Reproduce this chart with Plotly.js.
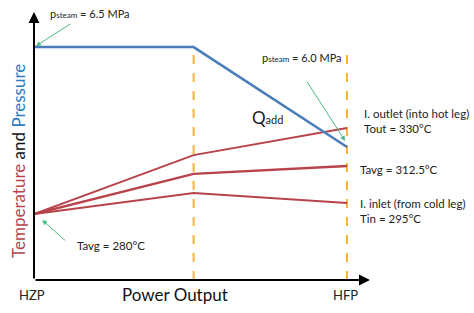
<!DOCTYPE html>
<html><head><meta charset="utf-8">
<script src="https://cdn.plot.ly/plotly-3.0.1.min.js"></script>
<style>html,body{margin:0;padding:0;background:#fff}#chart{width:474px;height:313px}</style>
</head><body><div id="chart"></div>
<script>
// Power levels (HZP = 0, HFP = 1), schematic level units (0-100)
const powerLevels = [0, 0.51, 1];
const pSteam = [86.9, 86.9, 49.6];
const tOut = [24.6, 46.6, 56.7];
const tAvg = [24.6, 39.6, 42.5];
const tIn = [24.6, 32.5, 28.7];
const xTickLabels = ['HZP', 'HFP'];

const FONT = 'Lato, "Open Sans", sans-serif';
const red = '#b8434a';
const blue = '#4a7ebb';
const gold = '#f8b531';
const green = '#4cbb7f';

const redLine = {color: red, width: 2};
const traces = [
  {x: powerLevels, y: tIn, mode: 'lines', line: redLine, hoverinfo: 'skip'},
  {x: powerLevels, y: tAvg, mode: 'lines', line: {color: red, width: 2.5}, hoverinfo: 'skip'},
  {x: powerLevels, y: tOut, mode: 'lines', line: redLine, hoverinfo: 'skip'},
  {x: powerLevels, y: pSteam, mode: 'lines', line: {color: blue, width: 2.5}, hoverinfo: 'skip'}
];

const xMax = 1.0735;
function txt(text, x, y, size, anchor, extra) {
  return Object.assign({text: text, x: x, y: y, xref: 'x', yref: 'y', showarrow: false,
    xanchor: anchor || 'left', yanchor: 'middle', align: 'left',
    font: {family: FONT, size: size || 11, color: '#222'}}, extra || {});
}
function ptxt(text, x, y, size, color) {
  return {text: text, x: x, y: y, xref: 'paper', yref: 'paper', showarrow: false,
    xanchor: 'center', yanchor: 'middle', font: {family: FONT, size: size, color: color || '#222'}};
}
function arrow(x, y, ax, ay, color, width, head, size) {
  return {text: '', x: x, y: y, ax: ax, ay: ay, xref: 'x', yref: 'y', axref: 'x', ayref: 'y',
    showarrow: true, arrowcolor: color, arrowwidth: width, arrowhead: head, arrowsize: size, standoff: 0};
}
const sm = s => '<span style="font-size:8px">' + s + '</span>';

const annotations = [
  arrow(0, 100, 0, 0, '#000', 2, 2, 1.1),
  arrow(xMax, 0, 0, 0, '#000', 2, 2, 1.1),
  arrow(0.006, 87.3, 0.121, 95.9, green, 1, 2, 1),
  arrow(0.994, 51.9, 0.869, 74.6, green, 1, 2, 1),
  arrow(0.026, 22.4, 0.105, 14.2, green, 1, 2, 1),
  txt('p' + sm('steam') + ' = 6.5 MPa', 0.045, 99.6, 11),
  txt('p' + sm('steam') + ' = 6.0 MPa', 0.722, 83.2, 11),
  txt('Q' + '<span style="font-size:11px">add</span>', 0.69, 60.8, 17),
  txt('I. outlet (into hot leg)<br>Tout = 330°C', 1.048, 59.5, 11.5),
  txt('Tavg = 312.5°C', 1.035, 41.4, 11.5),
  txt('I. inlet (from cold leg)<br>Tin = 295°C', 1.035, 25.6, 11.5),
  txt('Tavg = 280°C', 0.131, 12.7, 11.5),
  ptxt(xTickLabels[0], -0.006, -0.056, 13),
  ptxt('Power Output', 0.42, -0.054, 17, '#111'),
  ptxt(xTickLabels[1], 0.926, -0.056, 13),
  {text: '<span style="color:' + red + '">Temperature</span> and <span style="color:#2e7bbf">Pressure</span>',
   xref: 'paper', yref: 'paper', x: -16/336, y: (280-161)/268, textangle: -90, showarrow: false,
   xanchor: 'center', yanchor: 'middle', font: {family: FONT, size: 17, color: '#111'}}
];

const shapes = [
  {type: 'line', xref: 'x', yref: 'y', x0: powerLevels[1], x1: powerLevels[1], y0: 0, y1: pSteam[1],
   line: {color: gold, width: 2, dash: 'dash'}, layer: 'below'},
  {type: 'line', xref: 'x', yref: 'y', x0: powerLevels[2], x1: powerLevels[2], y0: 0, y1: 85,
   line: {color: gold, width: 2, dash: 'dash'}, layer: 'below'}
];

const layout = {
  width: 474, height: 313,
  margin: {l: 34, r: 104, t: 12, b: 33},
  paper_bgcolor: '#fff', plot_bgcolor: '#fff',
  showlegend: false,
  xaxis: {range: [0, xMax], showgrid: false, zeroline: false, showticklabels: false, showline: false, fixedrange: true},
  yaxis: {range: [0, 100], showgrid: false, zeroline: false, showticklabels: false, showline: false, fixedrange: true},
  annotations: annotations,
  shapes: shapes
};

Plotly.newPlot('chart', traces, layout, {displayModeBar: false, staticPlot: true});
</script></body></html>
